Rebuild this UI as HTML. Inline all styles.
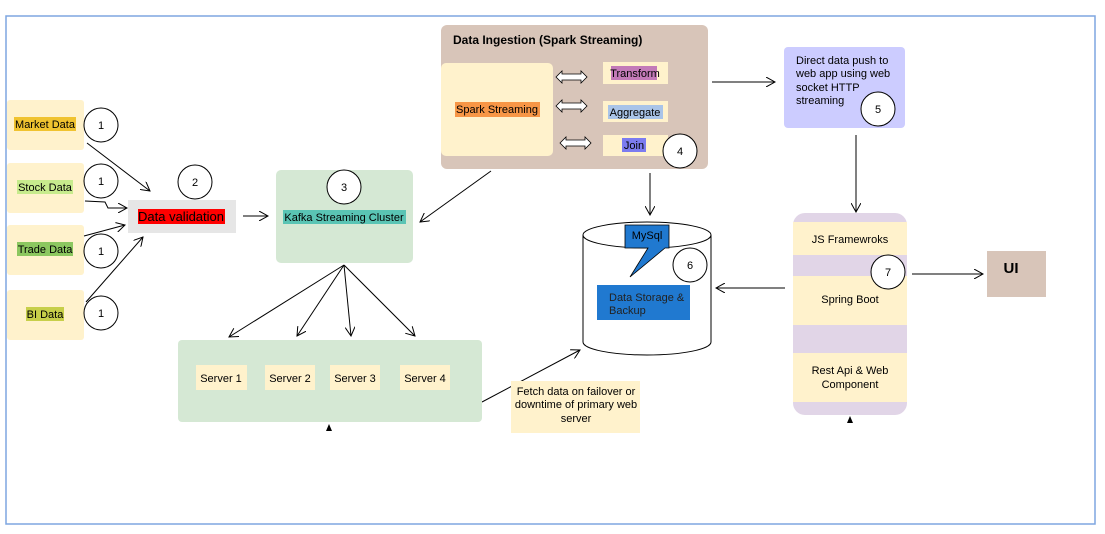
<!DOCTYPE html>
<html><head><style>body{margin:0;background:#fff}svg{display:block}text{font-family:"Liberation Sans",sans-serif}</style></head><body>
<svg width="1105" height="534" viewBox="0 0 1105 534" xmlns="http://www.w3.org/2000/svg">
<defs><marker id="a" markerWidth="10" markerHeight="10" refX="9" refY="5" orient="auto" markerUnits="userSpaceOnUse"><path d="M0,0 L9,5 L0,10" fill="none" stroke="#000" stroke-width="1"/></marker></defs>
<rect x="6" y="16" width="1089" height="508" fill="none" stroke="#7ea6e0" stroke-width="1.5"/>
<g font-size="11" text-anchor="middle">
<rect x="7" y="100" width="77" height="50" rx="3" fill="#fff2cc"/><rect x="14" y="117" width="62" height="14" fill="#f0c330"/><text x="45" y="128">Market Data</text>
<rect x="7" y="163" width="77" height="50" rx="3" fill="#fff2cc"/><rect x="17" y="180" width="56" height="14" fill="#c7eb8d"/><text x="45" y="191">Stock Data</text>
<rect x="7" y="225" width="77" height="50" rx="3" fill="#fff2cc"/><rect x="17" y="242" width="56" height="14" fill="#8cc760"/><text x="45" y="253">Trade Data</text>
<rect x="7" y="290" width="77" height="50" rx="3" fill="#fff2cc"/><rect x="26" y="307" width="38" height="14" fill="#c7cf4a"/><text x="45" y="318">BI Data</text>
</g>
<g fill="none" stroke="#000" stroke-width="1">
<circle cx="101" cy="125" r="17" fill="#fff"/><circle cx="101" cy="181" r="17" fill="#fff"/><circle cx="101" cy="251" r="17" fill="#fff"/><circle cx="101" cy="313" r="17" fill="#fff"/>
<circle cx="195" cy="182" r="17"/>
<line x1="87" y1="143" x2="150" y2="191" marker-end="url(#a)"/>
<path d="M85,201 L105,202 L108,208 L127,208" marker-end="url(#a)"/>
<line x1="84" y1="236" x2="125" y2="225" marker-end="url(#a)"/>
<line x1="86" y1="302" x2="143" y2="237" marker-end="url(#a)"/>
</g>
<g font-size="11" text-anchor="middle">
<text x="101" y="129">1</text><text x="101" y="185">1</text><text x="101" y="255">1</text><text x="101" y="317">1</text><text x="195" y="186">2</text>
</g>
<rect x="128" y="200" width="108" height="33" fill="#e6e6e6"/><rect x="138" y="209" width="87" height="15" fill="#ff0000"/><text x="181" y="221" font-size="13" text-anchor="middle">Data validation</text>
<line x1="243" y1="216" x2="268" y2="216" stroke="#000" marker-end="url(#a)"/>
<rect x="276" y="170" width="137" height="93" rx="5" fill="#d5e8d4"/>
<circle cx="344" cy="187" r="17" fill="#fff" stroke="#000"/><text x="344" y="191" font-size="11" text-anchor="middle">3</text>
<rect x="283" y="210" width="123" height="14" fill="#5ac4b4"/><text x="344" y="221" font-size="11" text-anchor="middle">Kafka Streaming Cluster</text>
<rect x="441" y="25" width="267" height="144" rx="6" fill="#d8c5b9"/>
<text x="453" y="44" font-size="12" font-weight="bold">Data Ingestion (Spark Streaming)</text>
<rect x="441" y="63" width="112" height="93" rx="5" fill="#fff2cc"/>
<rect x="455" y="102" width="85" height="15" fill="#f79646"/><text x="497" y="113" font-size="11" text-anchor="middle">Spark Streaming</text>
<rect x="603" y="62" width="65" height="22" fill="#fff2cc"/><rect x="611" y="66" width="46" height="14" fill="#c37ab8"/><text x="635" y="77" font-size="11" text-anchor="middle">Transform</text>
<rect x="603" y="101" width="65" height="21" fill="#fff2cc"/><rect x="608" y="105" width="55" height="14" fill="#a9c4e8"/><text x="635" y="116" font-size="11" text-anchor="middle">Aggregate</text>
<rect x="603" y="135" width="65" height="21" fill="#fff2cc"/><rect x="622" y="138" width="24" height="14" fill="#7c7cf0"/><text x="634" y="149" font-size="11" text-anchor="middle">Join</text>
<g fill="#fff" stroke="#000" stroke-width="0.8">
<path d="M527,77 l6,-6 v3 h19 v-3 l6,6 l-6,6 v-3 h-19 v3z" transform="translate(29,0)"/>
<path d="M527,106 l6,-6 v3 h19 v-3 l6,6 l-6,6 v-3 h-19 v3z" transform="translate(29,0)"/>
<path d="M527,143 l6,-6 v3 h19 v-3 l6,6 l-6,6 v-3 h-19 v3z" transform="translate(33,0)"/>
</g>
<circle cx="680" cy="151" r="17" fill="#fff" stroke="#000"/><text x="680" y="155" font-size="11" text-anchor="middle">4</text>
<g stroke="#000" fill="none">
<line x1="491" y1="171" x2="420" y2="222" marker-end="url(#a)"/>
<line x1="712" y1="82" x2="775" y2="82" marker-end="url(#a)"/>
<line x1="856" y1="135" x2="856" y2="212" marker-end="url(#a)"/>
<line x1="650" y1="173" x2="650" y2="215" marker-end="url(#a)"/>
<line x1="785" y1="288" x2="716" y2="288" marker-end="url(#a)"/>
<line x1="912" y1="274" x2="983" y2="274" marker-end="url(#a)"/>
<line x1="344" y1="265" x2="229" y2="337" marker-end="url(#a)"/>
<line x1="344" y1="265" x2="297" y2="336" marker-end="url(#a)"/>
<line x1="344" y1="265" x2="351" y2="336" marker-end="url(#a)"/>
<line x1="344" y1="265" x2="415" y2="336" marker-end="url(#a)"/>
<line x1="482" y1="402" x2="580" y2="350" marker-end="url(#a)"/>
</g>
<rect x="784" y="47" width="121" height="81" rx="4" fill="#ccccff"/>
<g font-size="11"><text x="796" y="64">Direct data push to</text><text x="796" y="77">web app using web</text><text x="796" y="91">socket HTTP</text><text x="796" y="104">streaming</text></g>
<circle cx="878" cy="109" r="17" fill="#fff" stroke="#000"/><text x="878" y="113" font-size="11" text-anchor="middle">5</text>
<path d="M583,235 v107 a64,13 0 0 0 128,0 v-107" fill="#fff" stroke="#000"/>
<ellipse cx="647" cy="235" rx="64" ry="13" fill="#fff" stroke="#000"/>
<path d="M625,225 h44 v23 h-4 l-35,29 l18,-29 h-23z" fill="#2079d0" stroke="#000" stroke-width="0.8"/>
<text x="647" y="239" font-size="11" text-anchor="middle">MySql</text>
<circle cx="690" cy="265" r="17" fill="#fff" stroke="#000"/><text x="690" y="269" font-size="11" text-anchor="middle">6</text>
<rect x="597" y="285" width="93" height="35" fill="#2079d0"/>
<text x="609" y="301" font-size="11" fill="#222">Data Storage &amp;</text><text x="609" y="314" font-size="11" fill="#222">Backup</text>
<rect x="793" y="213" width="114" height="202" rx="12" fill="#e1d5e7"/>
<rect x="793" y="222" width="114" height="33" fill="#fff2cc"/><text x="850" y="243" font-size="11" text-anchor="middle">JS Framewroks</text>
<rect x="793" y="276" width="114" height="49" fill="#fff2cc"/><text x="850" y="303" font-size="11" text-anchor="middle">Spring Boot</text>
<rect x="793" y="353" width="114" height="49" fill="#fff2cc"/><text x="850" y="374" font-size="11" text-anchor="middle">Rest Api &amp; Web</text><text x="850" y="388" font-size="11" text-anchor="middle">Component</text>
<circle cx="888" cy="272" r="17" fill="#fff" stroke="#000"/><text x="888" y="276" font-size="11" text-anchor="middle">7</text>
<path d="M850,416 l-3,7 h6z"/>
<rect x="987" y="251" width="59" height="46" fill="#d8c5b9"/><text x="1011" y="273" font-size="15" font-weight="bold" text-anchor="middle">UI</text>
<rect x="178" y="340" width="304" height="82" rx="4" fill="#d5e8d4"/>
<g font-size="11" text-anchor="middle">
<rect x="196" y="365" width="51" height="25" fill="#fff2cc"/><text x="221" y="382">Server 1</text>
<rect x="265" y="365" width="50" height="25" fill="#fff2cc"/><text x="290" y="382">Server 2</text>
<rect x="330" y="365" width="50" height="25" fill="#fff2cc"/><text x="355" y="382">Server 3</text>
<rect x="400" y="365" width="50" height="25" fill="#fff2cc"/><text x="425" y="382">Server 4</text>
</g>
<path d="M329,424 l-3,7 h6z"/>
<rect x="511" y="381" width="129" height="52" fill="#fff2cc"/>
<g font-size="11" text-anchor="middle"><text x="576" y="395">Fetch data on failover or</text><text x="576" y="408">downtime of primary web</text><text x="576" y="422">server</text></g>
</svg>
</body></html>
